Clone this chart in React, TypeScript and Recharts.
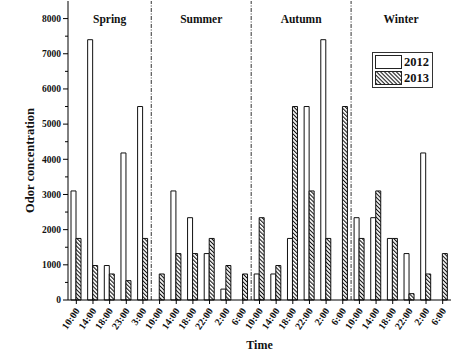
import React from 'react'
import { BarChart, Bar, XAxis, YAxis, ReferenceLine, ReferenceArea, Legend } from 'recharts'

const SEASONS = ['Spring', 'Summer', 'Autumn', 'Winter']
const SEASON_TIMES = [
  ['10:00', '14:00', '18:00', '23:00', '3:00'],
  ['10:00', '14:00', '18:00', '22:00', '2:00', '6:00'],
  ['10:00', '14:00', '18:00', '22:00', '2:00', '6:00'],
  ['10:00', '14:00', '18:00', '22:00', '2:00', '6:00'],
]
const ODOR_2012 = [3100, 7400, 980, 4180, 5500, 0, 3100, 2340, 1320, 310, 0, 740, 740, 1750, 5500, 7400, 0, 2340, 2340, 1750, 1320, 4180, 0]
const ODOR_2013 = [1750, 980, 740, 550, 1750, 740, 1320, 1320, 1750, 980, 740, 2340, 980, 5500, 3100, 1750, 5500, 1750, 3100, 1750, 180, 740, 1320]
const Y_TICKS = [0, 500, 1000, 1500, 2000, 2500, 3000, 3500, 4000, 4500, 5000, 5500, 6000, 6500, 7000, 7500, 8000]
const Y_DOMAIN = [0, 8500]

const FONT = '"Liberation Serif", "Times New Roman", serif'

const keys: string[] = []
SEASONS.forEach((s, i) => SEASON_TIMES[i].forEach((t) => keys.push(`${s}|${t}`)))
const data = keys.map((key, i) => ({ key, y2012: ODOR_2012[i], y2013: ODOR_2013[i] }))

function XTick({ x, y, payload }: any) {
  const label = String(payload.value).split('|')[1]
  return (
    <g transform={`translate(${x + 1},${y + 3}) rotate(-55)`}>
      <text x={0} y={0} dy="0.35em" textAnchor="end" fill="#111" fontSize={10} fontWeight="bold" fontFamily={FONT}>
        {label}
      </text>
    </g>
  )
}

function YTick({ x, y, payload }: any) {
  const v = payload.value
  const major = v % 1000 === 0
  return (
    <g>
      <line x1={x - (major ? 5 : 3)} x2={x} y1={y} y2={y} stroke="#000" />
      {major && (
        <text x={x - 7} y={y} dy="0.35em" textAnchor="end" fill="#111" fontSize={9.5} fontWeight="bold" fontFamily={FONT}>
          {v}
        </text>
      )}
    </g>
  )
}

function HatchDefs({ id }: { id: string }) {
  return (
    <defs>
      <pattern id={id} patternUnits="userSpaceOnUse" width={2.8} height={2.8} patternTransform="rotate(-45)">
        <rect width={2.8} height={2.8} fill="#fff" />
        <line x1={0.5} y1={0} x2={0.5} y2={2.8} stroke="#111" strokeWidth={1.1} />
      </pattern>
    </defs>
  )
}

function LegendBox() {
  return (
    <div style={{ border: '1px solid #333', background: '#fff', padding: '1px 2px', width: 55 }}>
      {['2012', '2013'].map((yr, i) => (
        <div key={yr} style={{ display: 'flex', alignItems: 'center', height: 16 }}>
          <svg width={27} height={14}>
            {i === 1 && <HatchDefs id="hatchLegend" />}
            <rect x={0.5} y={0.5} width={26} height={13} fill={i === 0 ? '#fff' : 'url(#hatchLegend)'} stroke="#222" />
          </svg>
          <span style={{ fontFamily: FONT, fontWeight: 'bold', fontSize: 12.5, marginLeft: 2, color: '#111' }}>{yr}</span>
        </div>
      ))}
    </div>
  )
}

const seasonLabel = (value: string) => ({
  value,
  position: 'insideTop' as const,
  offset: 14,
  fill: '#111',
  fontSize: 11.5,
  fontWeight: 'bold',
  fontFamily: FONT,
})

export default function App() {
  return (
    <div style={{ position: 'absolute', left: 0, top: 0, background: '#fff' }}>
      <BarChart width={474} height={364} data={data} margin={{ top: 1, right: 23, bottom: 0, left: 0 }} barSize={5} barGap={0}>
        <HatchDefs id="hatch" />
        <XAxis
          dataKey="key"
          type="category"
          interval={0}
          height={64}
          tick={<XTick />}
          tickSize={4}
          tickMargin={2}
          tickLine={{ stroke: '#000' }}
          axisLine={{ stroke: '#000' }}
          label={{
            content: ({ viewBox }: any) => (
              <text x={viewBox.x + viewBox.width / 2} y={viewBox.y + 49} textAnchor="middle" fill="#111" fontSize={12} fontWeight="bold" fontFamily={FONT}>
                Time
              </text>
            ),
          }}
        />
        <XAxis xAxisId="top" orientation="top" dataKey="key" height={0} tick={false} tickLine={false} axisLine={{ stroke: '#5a5a5a', strokeWidth: 3 }} />
        <YAxis
          domain={Y_DOMAIN}
          ticks={Y_TICKS}
          interval={0}
          width={68}
          tickSize={0}
          tickMargin={0}
          tickLine={false}
          tick={<YTick />}
          axisLine={{ stroke: '#000' }}
          label={{
            content: ({ viewBox }: any) => {
              const cx = viewBox.x + 30
              const cy = viewBox.y + viewBox.height / 2 + 10
              return (
                <text x={cx} y={cy} transform={`rotate(-90, ${cx}, ${cy})`} textAnchor="middle" dy="0.35em" fill="#111" fontSize={12.5} fontWeight="bold" fontFamily={FONT}>
                  Odor concentration
                </text>
              )
            },
          }}
        />
        <YAxis yAxisId="right" orientation="right" domain={Y_DOMAIN} width={0} tick={false} tickLine={false} axisLine={{ stroke: '#000' }} />
        {SEASONS.map((s, i) => (
          <ReferenceArea
            key={s}
            x1={`${s}|${SEASON_TIMES[i][0]}`}
            x2={`${s}|${SEASON_TIMES[i][SEASON_TIMES[i].length - 1]}`}
            fill="none"
            stroke="none"
            label={seasonLabel(s)}
          />
        ))}
        {SEASONS.slice(1).map((s, i) => (
          <ReferenceLine key={s} x={`${s}|${SEASON_TIMES[i + 1][0]}`} position="start" stroke="#333" strokeDasharray="4 1.5 1 1.5" />
        ))}
        <Bar dataKey="y2012" fill="#fff" stroke="#111" strokeWidth={1} isAnimationActive={false} />
        <Bar dataKey="y2013" fill="url(#hatch)" stroke="#111" strokeWidth={1} isAnimationActive={false} />
        <Legend
          layout="horizontal"
          verticalAlign="middle"
          align="center"
          wrapperStyle={{ left: 372, top: 52, width: 'auto' }}
          content={() => <LegendBox />}
        />
      </BarChart>
    </div>
  )
}
